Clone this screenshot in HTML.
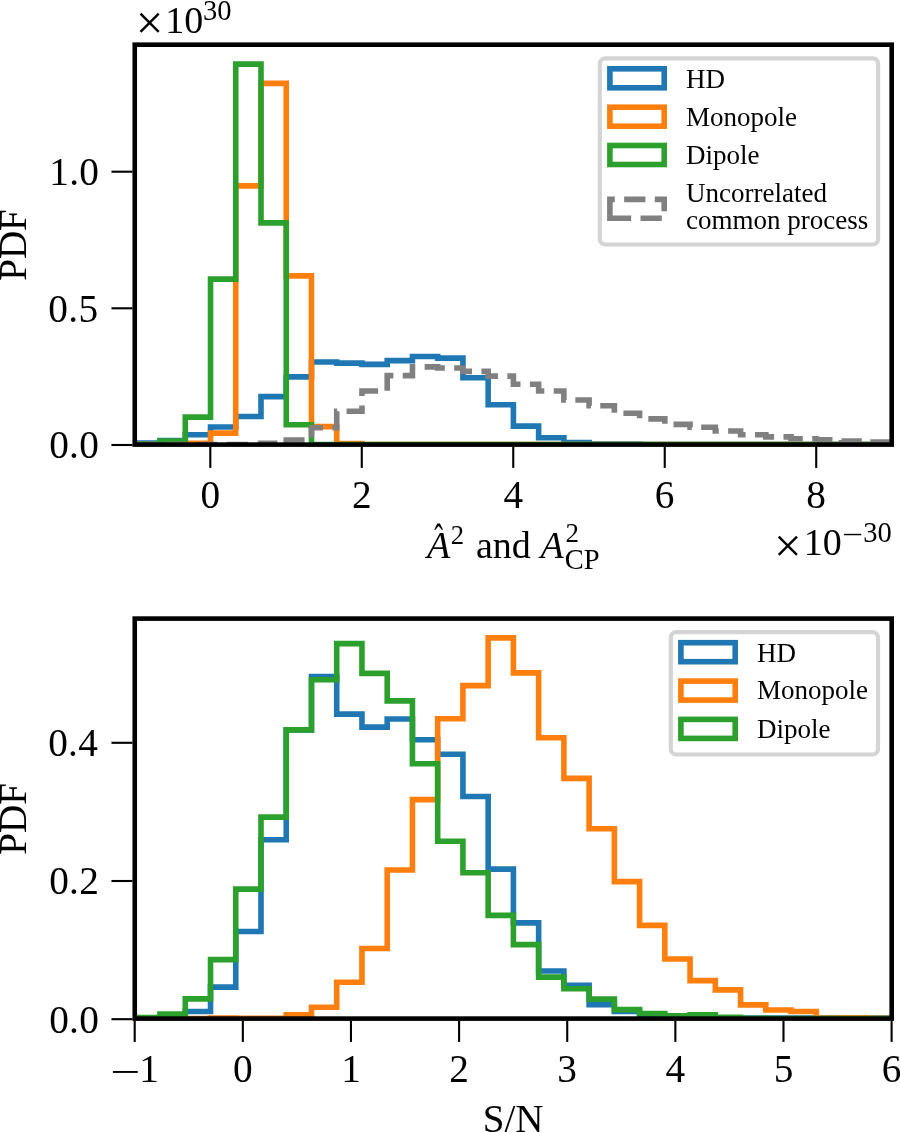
<!DOCTYPE html>
<html><head><meta charset="utf-8"><title>PDF histograms</title>
<style>
html,body{margin:0;padding:0;background:#fff}
svg{display:block}
text{font-family:"Liberation Serif","Times New Roman",Times,serif;fill:#000}
.t{font-size:39.3px}
.m{font-size:38px}
.l{font-size:27px}
.s{font-size:28.5px}
.i{font-style:italic}
.h{fill:none;stroke-width:5.6;stroke-linejoin:miter;stroke-linecap:butt}
</style></head><body>
<svg width="900" height="1132" viewBox="0 0 900 1132">
<rect width="900" height="1132" fill="#fff"/>
<defs><clipPath id="c1"><rect x="134.75" y="44.7" width="756.95" height="399.90000000000003"/></clipPath><clipPath id="c2"><rect x="134.75" y="618.6" width="756.95" height="400.0"/></clipPath></defs>
<g clip-path="url(#c1)">
<path class="h" stroke="#1f77b4" d="M134.80,444.60V443.10H160.04V440.60H185.28V434.80H210.52V427.00H235.76V416.50H261.00V396.60H286.24V376.90H311.48V362.00H336.72V363.10H361.96V364.40H387.20V360.60H412.44V356.50H437.68V358.10H462.92V377.80H488.16V404.80H513.40V426.10H538.64V437.80H563.88V442.60H589.12V444.00H614.36V444.00H639.60V444.60H664.84V444.60H690.08V444.60H715.32V444.60H740.56V444.60H765.80V444.60H791.04V444.60H816.28V444.60H841.52V444.60H866.76V444.60H892.00V444.60"/>
<path class="h" stroke="#ff7f0e" d="M134.80,444.60V444.60H160.04V444.60H185.28V443.30H210.52V433.10H235.76V185.90H261.00V83.40H286.24V275.90H311.48V426.60H336.72V443.60H361.96V444.60H387.20V444.60H412.44V444.60H437.68V444.60H462.92V444.60H488.16V444.60H513.40V444.60H538.64V444.60H563.88V444.60H589.12V444.60H614.36V444.60H639.60V444.60H664.84V444.60H690.08V444.60H715.32V444.60H740.56V444.60H765.80V444.60H791.04V444.60H816.28V444.60H841.52V444.60H866.76V444.60H892.00V444.60"/>
<path class="h" stroke="#2ca02c" d="M134.80,444.60V444.30H160.04V441.10H185.28V417.10H210.52V279.10H235.76V64.10H261.00V222.90H286.24V424.80H311.48V444.60H336.72V444.60H361.96V444.60H387.20V444.60H412.44V444.60H437.68V444.60H462.92V444.60H488.16V444.60H513.40V444.60H538.64V444.60H563.88V444.60H589.12V444.60H614.36V444.60H639.60V444.60H664.84V444.60H690.08V444.60H715.32V444.60H740.56V444.60H765.80V444.60H791.04V444.60H816.28V444.60H841.52V444.60H866.76V444.60H892.00V444.60"/>
<path class="h" stroke="#808080" stroke-dasharray="21.25 9.38" d="M134.80,444.60V444.60H160.04V444.60H185.28V444.60H210.52V444.50H235.76V444.50H261.00V443.40H286.24V440.00H311.48V427.80H336.72V411.30H361.96V391.00H387.20V375.60H412.44V366.90H437.68V368.00H462.92V371.40H488.16V376.10H513.40V384.20H538.64V391.00H563.88V400.00H589.12V405.70H614.36V413.20H639.60V418.90H664.84V424.40H690.08V427.30H715.32V431.00H740.56V434.80H765.80V436.90H791.04V438.80H816.28V439.80H841.52V441.10H866.76V442.00H892.00V444.60"/>
</g>
<g clip-path="url(#c2)">
<path class="h" stroke="#1f77b4" d="M134.80,1018.60V1018.00H160.04V1016.00H185.28V1011.50H210.52V987.10H235.76V931.50H261.00V839.75H286.24V730.00H311.48V676.50H336.72V714.10H361.96V727.10H387.20V719.00H412.44V739.75H437.68V754.30H462.92V796.50H488.16V869.10H513.40V922.90H538.64V971.00H563.88V985.30H589.12V1004.70H614.36V1011.50H639.60V1016.00H664.84V1017.00H690.08V1018.00H715.32V1018.00H740.56V1018.00H765.80V1018.00H791.04V1018.00H816.28V1018.00H841.52V1018.00H866.76V1018.00H892.00V1018.60"/>
<path class="h" stroke="#ff7f0e" d="M134.80,1018.60V1018.60H160.04V1018.60H185.28V1018.60H210.52V1018.00H235.76V1018.20H261.00V1018.30H286.24V1014.80H311.48V1007.25H336.72V982.20H361.96V948.50H387.20V870.00H412.44V799.60H437.68V718.80H462.92V685.60H488.16V637.90H513.40V672.90H538.64V737.75H563.88V778.40H589.12V828.80H614.36V881.60H639.60V925.40H664.84V959.00H690.08V980.60H715.32V989.90H740.56V1004.90H765.80V1010.00H791.04V1011.50H816.28V1018.00H841.52V1017.80H866.76V1018.30H892.00V1018.60"/>
<path class="h" stroke="#2ca02c" d="M134.80,1018.60V1017.50H160.04V1014.10H185.28V998.90H210.52V959.60H235.76V889.10H261.00V817.10H286.24V729.90H311.48V679.75H336.72V643.60H361.96V673.40H387.20V700.90H412.44V763.75H437.68V841.25H462.92V872.75H488.16V915.40H513.40V944.60H538.64V977.10H563.88V988.75H589.12V999.10H614.36V1009.60H639.60V1013.50H664.84V1015.80H690.08V1014.90H715.32V1017.30H740.56V1018.30H765.80V1018.50H791.04V1018.50H816.28V1018.50H841.52V1018.50H866.76V1018.50H892.00V1018.60"/>
</g>
<g fill="#000">
<rect x="209.25" y="446.90" width="2.1" height="21.0"/><rect x="360.73" y="446.90" width="2.1" height="21.0"/><rect x="512.21" y="446.90" width="2.1" height="21.0"/><rect x="663.69" y="446.90" width="2.1" height="21.0"/><rect x="815.17" y="446.90" width="2.1" height="21.0"/><rect x="133.65" y="1020.90" width="2.1" height="21.0"/><rect x="241.78" y="1020.90" width="2.1" height="21.0"/><rect x="349.91" y="1020.90" width="2.1" height="21.0"/><rect x="458.04" y="1020.90" width="2.1" height="21.0"/><rect x="566.17" y="1020.90" width="2.1" height="21.0"/><rect x="674.30" y="1020.90" width="2.1" height="21.0"/><rect x="782.43" y="1020.90" width="2.1" height="21.0"/><rect x="890.56" y="1020.90" width="2.1" height="21.0"/><rect x="111.45" y="443.95" width="21.0" height="2.1"/><rect x="111.45" y="307.25" width="21.0" height="2.1"/><rect x="111.45" y="170.65" width="21.0" height="2.1"/><rect x="111.45" y="1018.15" width="21.0" height="2.1"/><rect x="111.45" y="879.95" width="21.0" height="2.1"/><rect x="111.45" y="741.75" width="21.0" height="2.1"/>
</g>
<rect x="134.75" y="44.7" width="756.95" height="399.90000000000003" fill="none" stroke="#000" stroke-width="4.6"/>
<rect x="134.75" y="618.6" width="756.95" height="400.0" fill="none" stroke="#000" stroke-width="4.6"/>
<g class="t" text-anchor="middle">
<text x="210.3" y="507.8">0</text><text x="361.8" y="507.8">2</text><text x="513.3" y="507.8">4</text><text x="664.7" y="507.8">6</text><text x="816.2" y="507.8">8</text><text x="242.8" y="1081.8">0</text><text x="351.0" y="1081.8">1</text><text x="459.1" y="1081.8">2</text><text x="567.2" y="1081.8">3</text><text x="675.3" y="1081.8">4</text><text x="783.5" y="1081.8">5</text><text x="891.6" y="1081.8">6</text><text text-anchor="start" x="139.2" y="1081.8">1</text><text text-anchor="start" transform="translate(110.3,1085.1) scale(1.36,1)">−</text>
</g>
<g class="t" text-anchor="end">
<text x="99.2" y="458.4" style="letter-spacing:0.3px">0.0</text><text x="98.4" y="321.7" style="letter-spacing:0.3px">0.5</text><text x="99.3" y="185.1" style="letter-spacing:0.3px">1.0</text><text x="99.2" y="1032.6" style="letter-spacing:0.3px">0.0</text><text x="99.2" y="894.4" style="letter-spacing:0.3px">0.2</text><text x="98.2" y="756.2" style="letter-spacing:0.3px">0.4</text>
</g>
<text style="font-size:39.1px" text-anchor="middle" transform="translate(26.0,245.0) rotate(-90)">PDF</text>
<text style="font-size:39.1px" text-anchor="middle" transform="translate(26.0,818.9) rotate(-90)">PDF</text>
<text style="font-size:39px" text-anchor="middle" x="513.2" y="1131.6">S/N</text>
<text class="m"><tspan class="i" x="426.9" y="557.5">A</tspan><tspan class="s" x="450.8" y="544.2" style="font-size:26.6px">2</tspan><tspan x="475.9" y="557.5">and</tspan><tspan class="i" x="540.6" y="557.5">A</tspan><tspan class="s" x="565.6" y="542.1" style="font-size:27px">2</tspan><tspan class="s" x="564.8" y="568.6">CP</tspan></text>
<text style="font-size:26px" transform="translate(434.2,553.3) scale(1,1.65)">ˆ</text>
<text style="font-size:49px" x="135.8" y="39.1">×</text><text class="m" x="165.2" y="33.4">10</text><text class="s" x="203.0" y="19.6">30</text>
<text style="font-size:49px" x="773.9" y="561.7">×</text><text class="m" x="803.7" y="555.4">10</text><text class="s" x="863.2" y="542.4">30</text><text class="s" transform="translate(841.8,543.75) scale(1.31,1)">−</text>
<rect x="599.8" y="58.3" width="278.3" height="186.2" rx="5.5" ry="5.5" fill="#fff" fill-opacity="0.8" stroke="#d4d4d4" stroke-width="4.2"/>
<rect class="h" stroke="#1f77b4" x="609.9" y="68.8" width="54.3" height="19"/>
<text class="l" x="686.0" y="87.7">HD</text>
<rect class="h" stroke="#ff7f0e" x="609.9" y="107.2" width="54.3" height="19"/>
<text class="l" x="686.0" y="125.5">Monopole</text>
<rect class="h" stroke="#2ca02c" x="609.9" y="145.5" width="54.3" height="19"/>
<text class="l" x="686.0" y="164.1">Dipole</text>
<path class="h" stroke="#808080" stroke-dasharray="21.25 9.38" d="M609.9,218.2H664.2V199.4H609.9Z"/>
<path class="h" stroke="#808080" d="M607.1,218.2H610.4"/>
<text class="l" x="686.0" y="202.1">Uncorrelated</text>
<text class="l" x="686.0" y="228.8">common process</text>
<rect x="670.8" y="632.2" width="207.2" height="122.3" rx="5.5" ry="5.5" fill="#fff" fill-opacity="0.8" stroke="#d4d4d4" stroke-width="4.2"/>
<rect class="h" stroke="#1f77b4" x="680.9" y="642.7" width="54.3" height="19"/>
<text class="l" x="757.0" y="661.5">HD</text>
<rect class="h" stroke="#ff7f0e" x="680.9" y="681.1" width="54.3" height="19"/>
<text class="l" x="757.0" y="699.3">Monopole</text>
<rect class="h" stroke="#2ca02c" x="680.9" y="719.4" width="54.3" height="19"/>
<text class="l" x="757.0" y="737.5">Dipole</text>
</svg>
</body></html>
